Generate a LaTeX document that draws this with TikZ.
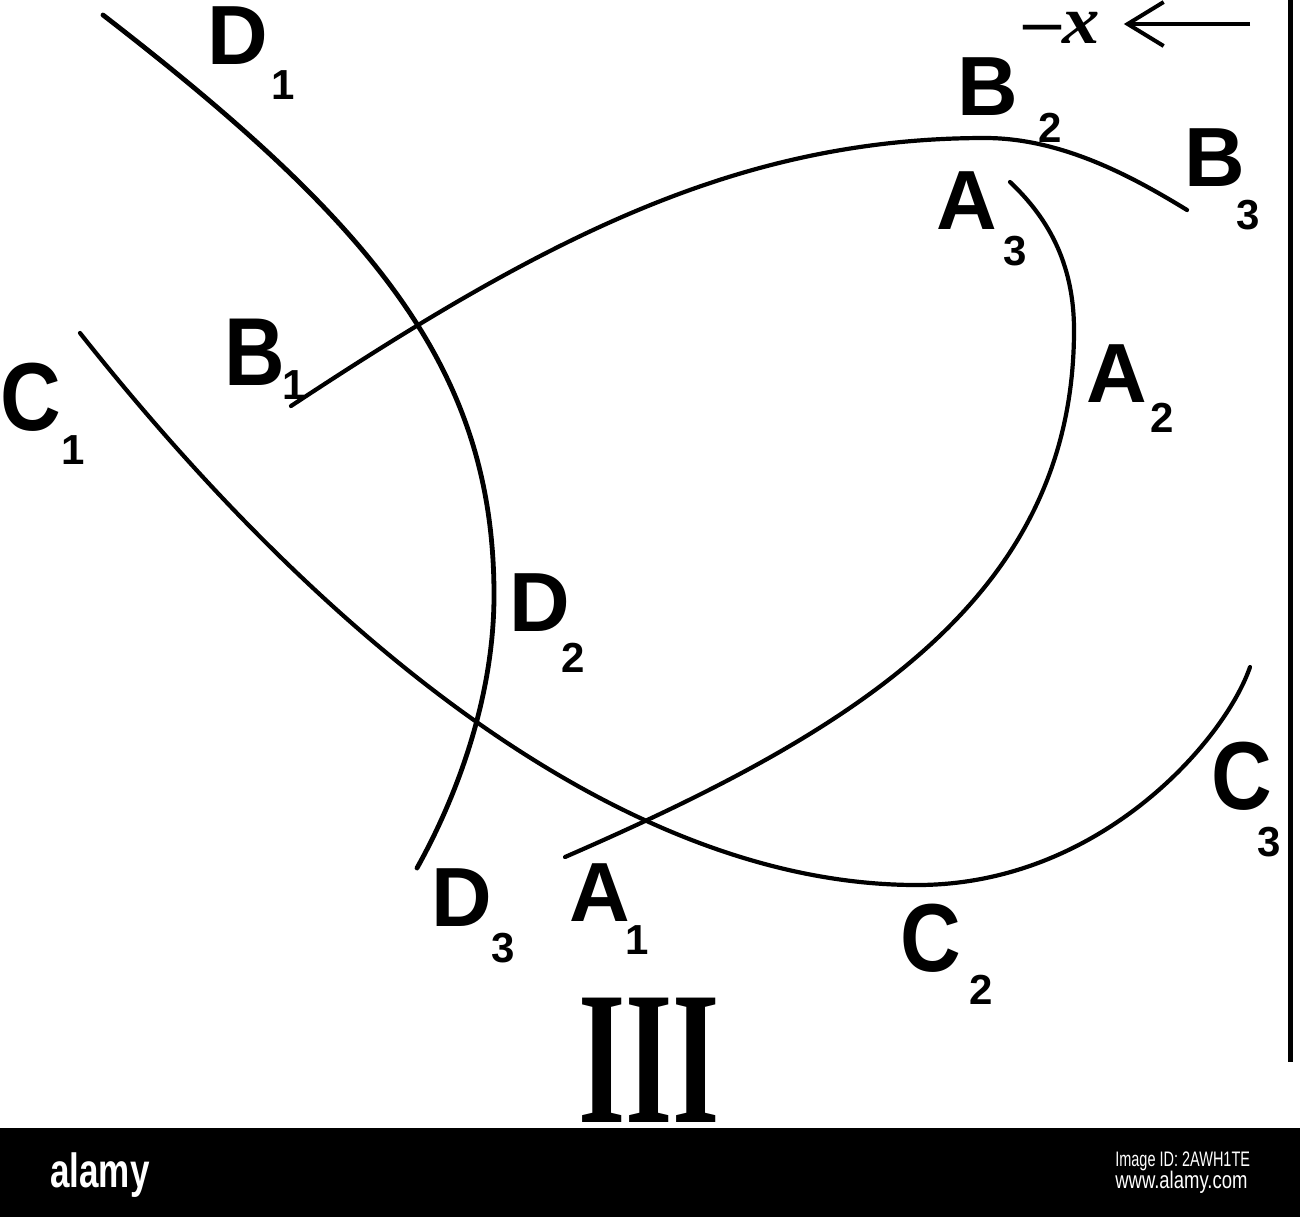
\documentclass[tikz,border=0pt]{standalone}
\usepackage{fontspec}
\setmainfont{Liberation Sans}
\newfontfamily\romfont{Liberation Serif}
\usetikzlibrary{arrows.meta}
\begin{document}
\begin{tikzpicture}[x=0.5pt,y=-0.5pt,
  curve/.style={line width=2.1pt, line cap=round, line join=round},
  lab/.style={inner sep=0pt, font=\fontsize{42}{42}\selectfont\bfseries},
  tall/.style={yscale=1.15},
  sublab/.style={inner sep=0pt, font=\fontsize{21}{21}\selectfont\bfseries},
  wm/.style={inner sep=0pt, text=white}]
\useasboundingbox (0,0) rectangle (1300,1217);
\fill[white] (0,0) rectangle (1300,1128);
\fill[black] (0,1128) rectangle (1300,1217);

% curve D
\draw[curve, line width=2.4pt] (103,15) .. controls (375,225) and (494,370) .. (494,595)
      .. controls (494,700) and (455,800) .. (417,868);
% curve B
\draw[curve] (291,406) .. controls (541,241) and (735,138) .. (985,138)
      .. controls (1060,138) and (1130,175) .. (1187,210);
% curve A
\draw[curve] (565,857) .. controls (850,733) and (1074,600) .. (1074,330)
      .. controls (1074,260) and (1045,215) .. (1010,182);
% curve C
\draw[curve] (80,333) .. controls (340,661) and (637,885) .. (917,885)
      .. controls (1100,885) and (1225,740) .. (1250,667);

% vertical line
\coordinate (vtop) at (1290,0);
\coordinate (vbot) at (1290,1062);
\draw[line width=2.5pt] (vtop) -- (vbot);

% -x arrow
\node[inner sep=0pt, text height=15pt, text depth=0pt, xscale=1.1,
      font=\fontsize{34}{34}\selectfont\romfont\bfseries\itshape] (xlab) at (1062,28) {\textendash x};
\coordinate (atail) at (1250,24);
\draw[line width=2pt, shorten >=12pt, -{Straight Barb[length=18pt,width=22pt,line width=2pt]}] (atail) -- (xlab.east |- atail);

% labels
\node[lab] (D1) at (238,36) {D};   \node[sublab] (d1) at (283,85) {1};
\node[lab, tall] (B1) at (255,352) {B};  \node[sublab] (b1) at (294,385) {1};
\node[lab, tall] (C1) at (31,397) {C};   \node[sublab] (c1) at (73,450) {1};
\node[lab] (D2) at (540,603) {D};  \node[sublab] (d2) at (573,658) {2};
\node[lab] (D3) at (462,898) {D};  \node[sublab] (d3) at (503,948) {3};
\node[lab] (A1) at (600,893) {A};  \node[sublab] (a1) at (637,940) {1};
\node[lab, tall] (C2) at (931,938) {C};  \node[sublab] (c2) at (981,990) {2};
\node[lab, tall] (C3) at (1242,776) {C}; \node[sublab] (c3) at (1269,842) {3};
\node[lab] (A2) at (1117,374) {A}; \node[sublab] (a2) at (1162,418) {2};
\node[lab] (A3) at (967,201) {A};  \node[sublab] (a3) at (1015,251) {3};
\node[lab] (B2) at (988,87) {B};   \node[sublab] (b2) at (1050,128) {2};
\node[lab] (B3) at (1215,158) {B}; \node[sublab] (b3) at (1248,215) {3};

% figure number
\node[inner sep=0pt, font=\fontsize{95}{95}\selectfont\romfont\bfseries, xscale=0.64] (fig) at (649,1060) {III};

% watermark band
\node[wm, anchor=base west, font=\fontsize{24}{24}\selectfont\bfseries, xscale=0.73] (alamy) at (50,1187) {alamy};
\node[wm, anchor=base west, font=\fontsize{10.5}{10.5}\selectfont, xscale=0.69] (imgid) at (1115,1166) {Image ID: 2AWH1TE};
\node[wm, anchor=base west, font=\fontsize{12}{12}\selectfont, xscale=0.77] (www) at (1115,1188) {www.alamy.com};
\end{tikzpicture}
\end{document}
